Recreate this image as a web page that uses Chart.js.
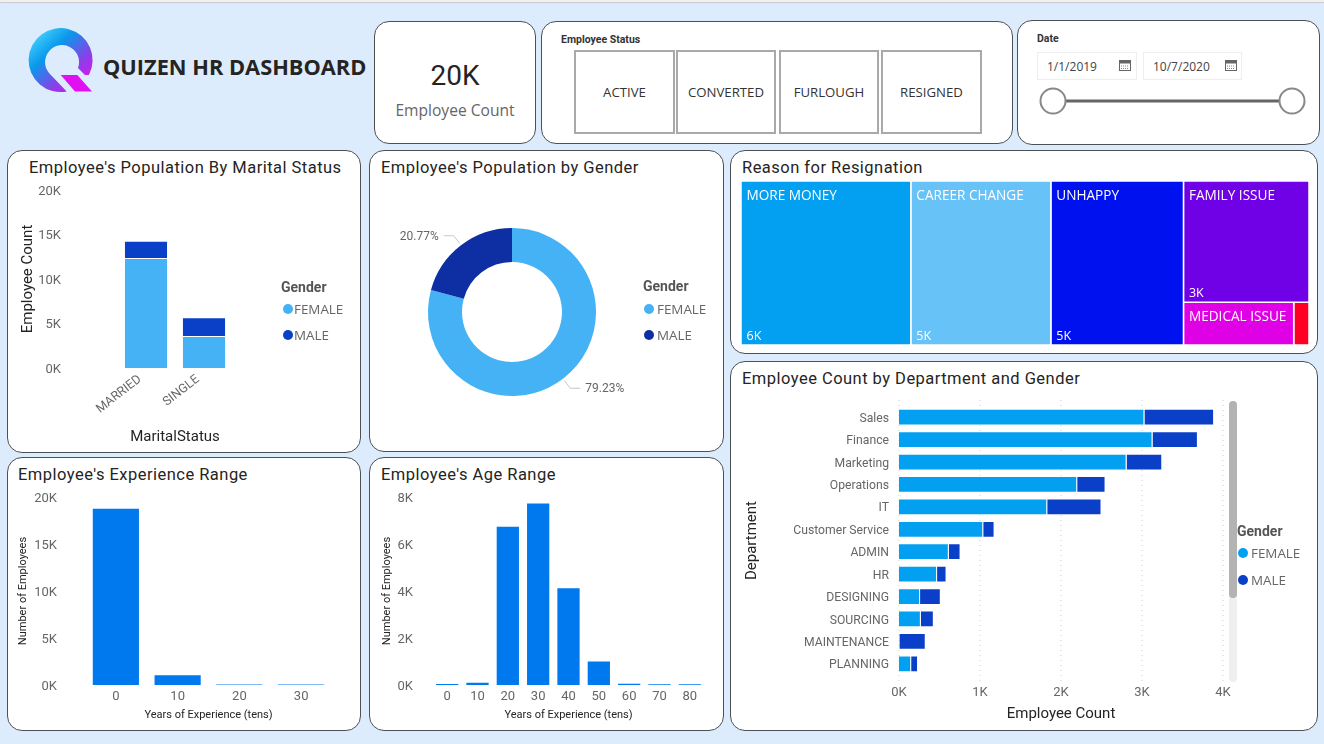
<!DOCTYPE html>
<html>
<head>
<meta charset="utf-8">
<title>Quizen HR Dashboard</title>
<script src="https://cdn.jsdelivr.net/npm/chart.js@4/dist/chart.umd.min.js"></script>
<style>
html, body { margin: 0; padding: 0; width: 1324px; height: 744px; overflow: hidden; background: #dcecfd; font-family: "Open Sans", sans-serif; }
.topbar { position: absolute; left: 0; top: 0; width: 1324px; height: 2px; background: #f0f0f0; box-shadow: 0 1px 1px #c8c8c8; }
.card { position: absolute; box-sizing: border-box; background: #fff; border: 1.5px solid #4c5156; border-radius: 15px; }
canvas { position: absolute; }
.title { position: absolute; font: 400 16.5px Roboto, sans-serif; letter-spacing: 0.47px; color: #252423; white-space: nowrap; line-height: 20px; }
.txt { position: absolute; white-space: nowrap; }
.legend-title { position: absolute; font: 700 14px Roboto, sans-serif; color: #555; line-height: 16px; }
.legend-item { position: absolute; font: 13.4px "Open Sans", sans-serif; color: #666; line-height: 16px; }
.dot { position: absolute; width: 10px; height: 10px; border-radius: 50%; }
.status { position: absolute; box-sizing: border-box; top: 50px; height: 84px; border: 2px solid #a9a9a9; font: 13.2px "Open Sans", sans-serif; color: #333; text-align: center; line-height: 80px; }
.date { position: absolute; box-sizing: border-box; top: 52px; height: 28px; border: 1px solid #eee; font: 12px "Open Sans", sans-serif; color: #444; line-height: 27px; padding-left: 9px; }
.small-head { position: absolute; font: 700 10.5px Roboto, sans-serif; color: #333; }
</style>
</head>
<body>
<div class="topbar"></div>

<svg style="position:absolute;left:0;top:0" width="110" height="110">
  <defs>
    <linearGradient id="logo" gradientUnits="userSpaceOnUse" x1="36" y1="32" x2="88" y2="88">
      <stop offset="0" stop-color="#45d5ff"/>
      <stop offset="0.32" stop-color="#0a98ea"/>
      <stop offset="0.68" stop-color="#8a3fe8"/>
      <stop offset="1" stop-color="#e40ff2"/>
    </linearGradient>
  </defs>
  <path fill="url(#logo)" d="M88.9 75 A32 32 0 1 0 66.7 91.5 L49 73 A17 17 0 1 1 78 68 L85 75 Z"/>
  <path fill="#e010f0" d="M60.7 75 L77.3 75 L92 91.5 L75 91.5 Z"/>
</svg>
<div class="txt" style="left:103px;top:52px;font:700 21.8px 'Open Sans',sans-serif;color:#252423;line-height:30px">QUIZEN HR DASHBOARD</div>

<div class="card" style="left:374px;top:21px;width:162px;height:123px"></div>
<div class="txt" style="left:374px;width:162px;top:58px;text-align:center;font:28px Roboto,sans-serif;color:#252423;line-height:36px">20K</div>
<div class="txt" style="left:374px;width:162px;top:99px;text-align:center;font:15.6px 'Open Sans',sans-serif;color:#666;line-height:22px">Employee Count</div>

<div class="card" style="left:541px;top:21px;width:472px;height:123px"></div>
<div class="small-head" style="left:561px;top:33px">Employee Status</div>
<div id="statusBoxes"></div>

<div class="card" style="left:1017px;top:20px;width:303px;height:125px"></div>
<div class="small-head" style="left:1037px;top:32px">Date</div>
<div class="date" style="left:1037px;width:100px">1/1/2019</div>
<div class="date" style="left:1143px;width:99px">10/7/2020</div>
<svg style="position:absolute;left:1118px;top:58px" width="14" height="14"><rect x="1.5" y="2.5" width="11" height="10" fill="none" stroke="#666"/><rect x="1.5" y="2.5" width="11" height="3" fill="#666"/><path d="M3 8h8M3 10.5h8" stroke="#888" stroke-dasharray="1 1"/></svg>
<svg style="position:absolute;left:1224px;top:58px" width="14" height="14"><rect x="1.5" y="2.5" width="11" height="10" fill="none" stroke="#666"/><rect x="1.5" y="2.5" width="11" height="3" fill="#666"/><path d="M3 8h8M3 10.5h8" stroke="#888" stroke-dasharray="1 1"/></svg>
<svg style="position:absolute;left:1030px;top:80px" width="285" height="42">
  <line x1="23" y1="21" x2="262" y2="21" stroke="#666" stroke-width="3"/>
  <circle cx="23" cy="21" r="12.5" fill="#fff" stroke="#888" stroke-width="2"/>
  <circle cx="262" cy="21" r="12.5" fill="#fff" stroke="#888" stroke-width="2"/>
</svg>

<div class="card" style="left:7px;top:150px;width:354px;height:303px"></div>
<div class="card" style="left:369px;top:150px;width:355px;height:302px"></div>
<div class="card" style="left:730px;top:150px;width:588px;height:204px"></div>
<div class="card" style="left:730px;top:361px;width:588px;height:370px"></div>
<div class="card" style="left:7px;top:457px;width:354px;height:274px"></div>
<div class="card" style="left:369px;top:457px;width:355px;height:274px"></div>

<div class="title" style="left:29px;top:158px">Employee's Population By Marital Status</div>
<div class="title" style="left:381px;top:158px">Employee's Population by Gender</div>
<div class="title" style="left:742px;top:158px">Reason for Resignation</div>
<div class="title" style="left:742px;top:369px">Employee Count by Department and Gender</div>
<div class="title" style="left:18px;top:465px">Employee's Experience Range</div>
<div class="title" style="left:381px;top:465px">Employee's Age Range</div>

<canvas id="maritalChart" style="left:7px;top:150px" width="354" height="303"></canvas>
<canvas id="genderChart" style="left:369px;top:150px" width="355" height="302"></canvas>
<canvas id="reasonChart" style="left:730px;top:150px" width="588" height="204"></canvas>
<canvas id="deptChart" style="left:730px;top:361px" width="588" height="370"></canvas>
<canvas id="expChart" style="left:7px;top:457px" width="354" height="274"></canvas>
<canvas id="ageChart" style="left:369px;top:457px" width="355" height="274"></canvas>

<div style="position:absolute;left:1229px;top:401px;width:8px;height:281px;border-radius:4px;background:#efefef"></div>
<div style="position:absolute;left:1229px;top:401px;width:8px;height:197px;border-radius:4px;background:#b3b3b3"></div>
<div id="legends"></div>

<script>
// chart data
var statusNames = ["ACTIVE", "CONVERTED", "FURLOUGH", "RESIGNED"];
var genderNames = ["FEMALE", "MALE"];

var maritalLabels = ["MARRIED", "SINGLE"];
var maritalFemale = [12360, 3600];
var maritalMale = [1940, 2100];

var genderShare = [79.23, 20.77];

var reasonNames = ["MORE MONEY", "CAREER CHANGE", "UNHAPPY", "FAMILY ISSUE", "MEDICAL ISSUE", ""];
var reasonValues = [5980, 4930, 4670, 3270, 1010, 140];
var reasonColors = ["#039ff1", "#66c2f7", "#0011f0", "#7000e6", "#e000e6", "#ff0022"];

var deptLabels = ["Sales", "Finance", "Marketing", "Operations", "IT", "Customer Service", "ADMIN", "HR", "DESIGNING", "SOURCING", "MAINTENANCE", "PLANNING"];
var deptFemale = [3030, 3130, 2810, 2200, 1830, 1040, 615, 470, 260, 270, 5, 150];
var deptMale = [860, 560, 440, 350, 670, 140, 145, 117, 256, 160, 325, 85];

var expLabels = ["0", "10", "20", "30"];
var expValues = [18860, 1150, 130, 110];

var ageLabels = ["0", "10", "20", "30", "40", "50", "60", "70", "80"];
var ageValues = [80, 140, 6780, 7770, 4160, 1040, 100, 70, 70];

var lightFemale = "#45b2f5";
var brightFemale = "#03a0f2";
var darkMale = "#0a3fc7";
var donutMale = "#0d2fa3";
var barBlue = "#0078ee";
var edge = "rgba(255,255,255,0.15)";
var tickGrey = "#666";
var axisDark = "#252423";

Chart.defaults.animation = false;
Chart.defaults.font.family = "Roboto, sans-serif";
Chart.defaults.plugins.legend.display = false;
Chart.defaults.plugins.tooltip.enabled = false;

function kLabel(value) {
    return (value / 1000) + "K";
}

function addLegend(titleX, titleY, dotX, textX, firstY, secondY, colors) {
    let box = document.getElementById("legends");
    let html = `<div class="legend-title" style="left:${titleX}px;top:${titleY - 8}px">Gender</div>`;
    genderNames.forEach((name, i) => {
        let y = i == 0 ? firstY : secondY;
        html += `<div class="dot" style="left:${dotX - 5}px;top:${y - 5}px;background:${colors[i]}"></div>`;
        html += `<div class="legend-item" style="left:${textX}px;top:${y - 8}px">${name}</div>`;
    });
    box.innerHTML += html;
}

// status slicer boxes
var statusLeft = [574, 676, 779, 881];
var statusWidth = [101, 100, 100, 101];
document.getElementById("statusBoxes").innerHTML = statusNames.map((name, i) =>
    `<div class="status" style="left:${statusLeft[i]}px;width:${statusWidth[i]}px">${name}</div>`
).join("");

addLegend(281, 287, 288, 294, 309, 335, [lightFemale, darkMale]);
addLegend(643, 286, 649, 657, 309, 335, [lightFemale, donutMale]);
addLegend(1237, 531, 1243, 1251, 553, 580, [brightFemale, darkMale]);

// fixed sizes for the axis boxes so the plot lands where it should
// paddingTop/Bottom come from ticks.padding otherwise and push the plot down
function fixWidth(width) {
    return (scale) => {
        scale.width = width;
        scale.paddingTop = 0;
        scale.paddingBottom = 0;
    };
}

function fixHeight(height) {
    return (scale) => {
        scale.height = height;
        scale.paddingLeft = 0;
        scale.paddingRight = 0;
    };
}

function yAxis(width, tickPad, title, titleSize, max, step) {
    return {
        stacked: true,
        min: 0,
        max: max,
        afterFit: fixWidth(width),
        grid: { display: false, drawTicks: false },
        border: { display: false },
        title: { display: true, text: title, color: axisDark, font: { size: titleSize }, padding: 0 },
        ticks: { stepSize: step, padding: tickPad, color: tickGrey, font: { size: 13 }, labelOffset: 1.5, callback: kLabel }
    };
}

function xAxis(height, title, titleSize, tickSize, rotation, offset) {
    return {
        stacked: true,
        afterFit: fixHeight(height),
        grid: { display: false, drawTicks: false },
        border: { display: false },
        title: { display: true, text: title, color: axisDark, font: { size: titleSize }, padding: 0 },
        ticks: { color: tickGrey, font: { size: tickSize }, minRotation: rotation, maxRotation: rotation, padding: 4, autoSkip: false, labelOffset: offset }
    };
}

new Chart(document.getElementById("maritalChart"), {
    type: "bar",
    data: {
        labels: maritalLabels,
        datasets: [
            { label: "FEMALE", data: maritalFemale, backgroundColor: lightFemale, borderColor: edge, borderWidth: 1, barPercentage: 0.76, categoryPercentage: 1 },
            { label: "MALE", data: maritalMale, backgroundColor: darkMale, borderColor: edge, borderWidth: 1, barPercentage: 0.76, categoryPercentage: 1 }
        ]
    },
    options: {
        responsive: false,
        layout: { padding: { left: 12, right: 128, top: 40, bottom: 7 } },
        scales: {
            x: xAxis(78, "MaritalStatus", 15, 12.5, 38, -6),
            y: yAxis(98, 56, "Employee Count", 15, 20000, 5000)
        }
    }
});

// leader lines and percent labels round the donut
var donutLabels = {
    id: "donutLabels",
    afterDatasetsDraw(chart) {
        let ctx = chart.ctx;
        chart.getDatasetMeta(0).data.forEach((arc, i) => {
            let mid = (arc.startAngle + arc.endAngle) / 2;
            let dir = Math.cos(mid) > 0 ? 1 : -1;
            let x1 = arc.x + Math.cos(mid) * (arc.outerRadius + 2);
            let y1 = arc.y + Math.sin(mid) * (arc.outerRadius + 2);
            let x2 = arc.x + Math.cos(mid) * (arc.outerRadius + 12);
            let y2 = arc.y + Math.sin(mid) * (arc.outerRadius + 12);
            let x3 = x2 + dir * 10;
            ctx.save();
            ctx.strokeStyle = "#c8c8c8";
            ctx.lineWidth = 1;
            ctx.beginPath();
            ctx.moveTo(x1, y1);
            ctx.lineTo(x2, y2);
            ctx.lineTo(x3, y2);
            ctx.stroke();
            ctx.fillStyle = tickGrey;
            ctx.font = "12px Roboto, sans-serif";
            ctx.textBaseline = "middle";
            ctx.textAlign = dir > 0 ? "left" : "right";
            ctx.fillText(genderShare[i].toFixed(2) + "%", x3 + dir * 5, y2 + 1);
            ctx.restore();
        });
    }
};

new Chart(document.getElementById("genderChart"), {
    type: "doughnut",
    data: {
        labels: genderNames,
        datasets: [{ data: genderShare, backgroundColor: [lightFemale, donutMale], borderWidth: 0 }]
    },
    options: {
        responsive: false,
        cutout: "59.5%",
        layout: { padding: { left: 59, right: 128, top: 78, bottom: 56 } }
    },
    plugins: [donutLabels]
});

// treemap: columns of cells worked out from the values, drawn as closed line datasets
var reasonColumns = [[0], [1], [2], [3, [4, 5]]];

function reasonCells() {
    let sum = (list) => list.reduce((a, b) => a + reasonValues[b], 0);
    let cells = [];
    let x = 0;
    reasonColumns.forEach((column) => {
        let colValue = sum(column.flat());
        let top = 1;
        column.forEach((item) => {
            let group = [].concat(item);
            let share = sum(group) / colValue;
            let left = x;
            group.forEach((idx) => {
                let w = colValue * reasonValues[idx] / sum(group);
                cells.push({ idx: idx, x0: left, x1: left + w, y0: top - share, y1: top });
                left += w;
            });
            top -= share;
        });
        x += colValue;
    });
    return cells;
}

var reasonDatasets = reasonCells().map((c) => ({
    label: reasonNames[c.idx],
    data: [
        { x: c.x0, y: c.y0 }, { x: c.x1, y: c.y0 }, { x: c.x1, y: c.y1 },
        { x: c.x0, y: c.y1 }, { x: c.x0, y: c.y0 }
    ],
    showLine: true,
    fill: "shape",
    pointRadius: 0,
    borderColor: "#ffffff",
    borderWidth: 1.5,
    backgroundColor: reasonColors[c.idx],
    valueIdx: c.idx
}));

var reasonText = {
    id: "reasonText",
    afterDatasetsDraw(chart) {
        let ctx = chart.ctx;
        chart.data.datasets.forEach((ds, i) => {
            let pts = chart.getDatasetMeta(i).data;
            let left = pts[0].x;
            let bottom = pts[0].y;
            let top = pts[2].y;
            ctx.save();
            ctx.fillStyle = "#ffffff";
            ctx.font = "13.6px 'Open Sans', sans-serif";
            ctx.textBaseline = "middle";
            ctx.fillText(ds.label, left + 5.5, top + 15);
            if (bottom - top > 60) {
                ctx.font = "12.5px 'Open Sans', sans-serif";
                ctx.fillText(Math.round(reasonValues[ds.valueIdx] / 1000) + "K", left + 5.5, bottom - 9);
            }
            ctx.restore();
        });
    }
};

new Chart(document.getElementById("reasonChart"), {
    type: "scatter",
    data: { datasets: reasonDatasets },
    options: {
        responsive: false,
        layout: { padding: { left: 11, right: 9, top: 31, bottom: 9 } },
        scales: {
            x: { type: "linear", display: false, min: 0, max: reasonValues.reduce((a, b) => a + b, 0) },
            y: { type: "linear", display: false, min: 0, max: 1 }
        }
    },
    plugins: [reasonText]
});

// dotted grid runs past the rows because the visual scrolls
var deptGrid = {
    id: "deptGrid",
    beforeDatasetsDraw(chart) {
        let ctx = chart.ctx;
        let area = chart.chartArea;
        ctx.save();
        ctx.strokeStyle = "#cfcfcf";
        ctx.setLineDash([1, 4]);
        chart.scales.x.ticks.forEach((tick) => {
            let x = chart.scales.x.getPixelForValue(tick.value);
            ctx.beginPath();
            ctx.moveTo(x, area.top - 6);
            ctx.lineTo(x, area.bottom + 7);
            ctx.stroke();
        });
        ctx.restore();
    }
};

new Chart(document.getElementById("deptChart"), {
    type: "bar",
    data: {
        labels: deptLabels,
        datasets: [
            { label: "FEMALE", data: deptFemale, backgroundColor: brightFemale, borderColor: edge, borderWidth: 1, barPercentage: 0.75, categoryPercentage: 1 },
            { label: "MALE", data: deptMale, backgroundColor: darkMale, borderColor: edge, borderWidth: 1, barPercentage: 0.75, categoryPercentage: 1 }
        ]
    },
    options: {
        indexAxis: "y",
        responsive: false,
        layout: { padding: { left: 13, right: 95, top: 45, bottom: 8 } },
        scales: {
            x: {
                stacked: true,
                min: 0,
                max: 4000,
                afterFit: fixHeight(48),
                grid: { display: false, drawTicks: false },
                border: { display: false },
                title: { display: true, text: "Employee Count", color: axisDark, font: { size: 15 }, padding: 0 },
                ticks: { stepSize: 1000, color: tickGrey, font: { size: 13 }, padding: 10, callback: kLabel }
            },
            y: {
                stacked: true,
                afterFit: fixWidth(156),
                grid: { display: false, drawTicks: false },
                border: { display: false },
                title: { display: true, text: "Department", color: axisDark, font: { size: 15 }, padding: 0 },
                ticks: { color: tickGrey, font: { size: 12.2 }, padding: 10, autoSkip: false, labelOffset: 1.5 }
            }
        }
    },
    plugins: [deptGrid]
});

new Chart(document.getElementById("expChart"), {
    type: "bar",
    data: {
        labels: expLabels,
        datasets: [{ label: "Employees", data: expValues, backgroundColor: barBlue, borderColor: edge, borderWidth: 1, barPercentage: 0.78, categoryPercentage: 1 }]
    },
    options: {
        responsive: false,
        layout: { padding: { left: 10, right: 29, top: 40, bottom: 9 } },
        scales: {
            x: xAxis(37, "Years of Experience (tens)", 11, 13, 0, 0),
            y: yAxis(68, 28, "Number of Employees", 11, 20000, 5000)
        }
    }
});

new Chart(document.getElementById("ageChart"), {
    type: "bar",
    data: {
        labels: ageLabels,
        datasets: [{ label: "Employees", data: ageValues, backgroundColor: barBlue, borderColor: edge, borderWidth: 1, barPercentage: 0.8, categoryPercentage: 1 }]
    },
    options: {
        responsive: false,
        layout: { padding: { left: 12, right: 19, top: 40, bottom: 9 } },
        scales: {
            x: xAxis(37, "Years of Experience (tens)", 11, 13, 0, 0),
            y: yAxis(51, 19, "Number of Employees", 11, 8000, 2000)
        }
    }
});
</script>
</body>
</html>
